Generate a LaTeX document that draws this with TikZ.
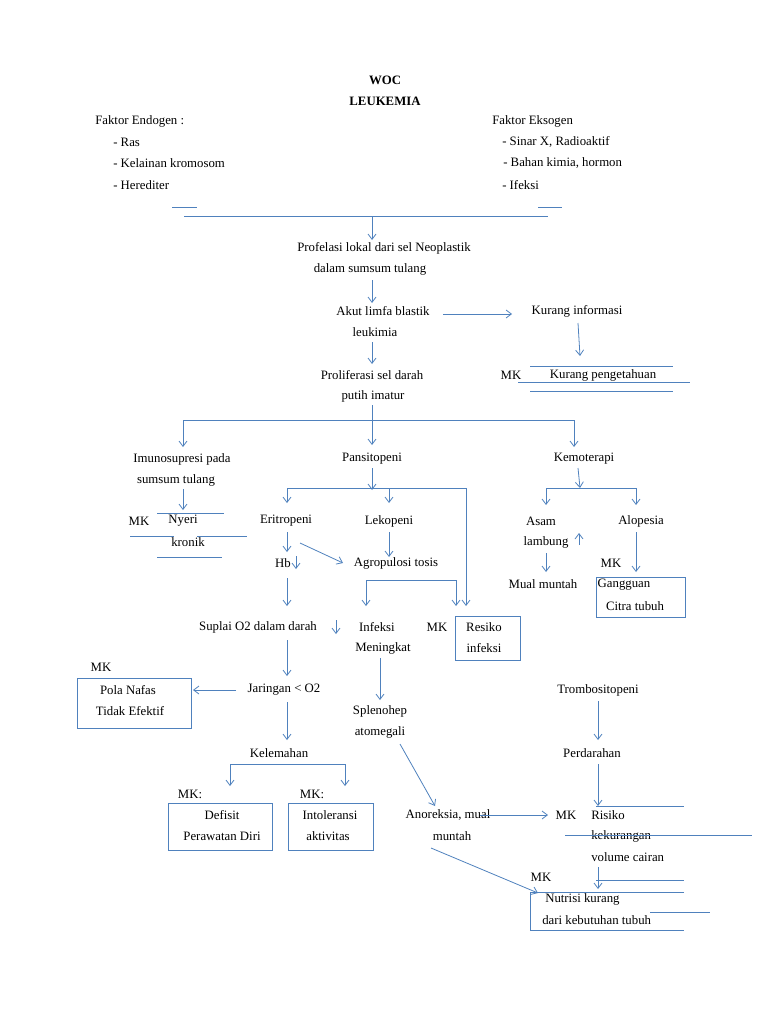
\documentclass[tikz,border=0pt]{standalone}
\usepackage{fontspec}
\setmainfont{Liberation Serif}
\usetikzlibrary{arrows.meta}
\definecolor{ln}{RGB}{79,129,189}
\begin{document}
\begin{tikzpicture}[x=0.75pt,y=-0.75pt,
 t/.style={inner sep=0pt,font=\fontsize{9.6}{11}\selectfont},
 l/.style={t,anchor=west},
 c/.style={draw=ln,line width=0.6pt},
 a/.style={c,-{Straight Barb[length=4pt,width=6pt]}},
 bx/.style={draw=ln,line width=0.6pt}]
\useasboundingbox (0,0) rectangle (768,1024);
% title
\node[t,font=\fontsize{9.6}{11}\selectfont\bfseries] (w) at (385,80) {WOC};
\node[t,font=\fontsize{9.6}{11}\selectfont\bfseries] (lk) at (385,101) {LEUKEMIA};
\node[l] (fe) at (95,121) {Faktor Endogen :};
\node[l] (f1) at (113,142) {- Ras};
\node[l] (f2) at (113,163) {- Kelainan kromosom};
\node[l] (f3) at (113,185) {- Herediter};
\node[l] (fx) at (492,121) {Faktor Eksogen};
\node[l] (x1) at (502,142) {- Sinar X, Radioaktif};
\node[l] (x2) at (503,163) {- Bahan kimia, hormon};
\node[l] (x3) at (502,185) {- Ifeksi};
\coordinate (s1) at (172,207); \coordinate (s2) at (197,207);
\coordinate (s3) at (538,207); \coordinate (s4) at (562,207);
\coordinate (h1) at (184,216); \coordinate (h2) at (548,216); \coordinate (h0) at (372,216);
\draw[c] (s1)--(s2); \draw[c] (s3)--(s4); \draw[c] (h1)--(h2);
\node[t] (p1) at (384,248) {Profelasi lokal dari sel Neoplastik};
\node[t] (p2) at (370,269) {dalam sumsum tulang};
\draw[a] (h0)--(372,240);
\node[t] (ak) at (383,311) {Akut limfa blastik};
\node[t] (ak2) at (375,332) {leukimia};
\draw[a] (372,280)--(372,303);
\node[t] (ki) at (577,311) {Kurang informasi};
\draw[a] (443,314)--(512,314);
\draw[a] (578,323)--(580,356);
\node[t] (pr) at (372,375) {Proliferasi sel darah};
\node[t] (pr2) at (373,396) {putih  imatur};
\draw[a] (372,342)--(372,364);
\node[t] (mk0) at (511,375) {MK};
\node[t] (kp) at (603,375) {Kurang pengetahuan};
\draw[c] (530,366)--(673,366); \draw[c] (518,382)--(690,382); \draw[c] (530,391)--(673,391);
% branch 1
\draw[c] (183,420)--(574,420);
\draw[a] (183,420)--(183,447); \draw[a] (372,405)--(372,445); \draw[a] (574,420)--(574,447);
\node[t] (im) at (182,459) {Imunosupresi pada};
\node[t] (im2) at (176,480) {sumsum tulang};
\draw[a] (183,489)--(183,510);
\node[t] (mk1) at (139,521) {MK};
\node[t] (ny) at (183,521) {Nyeri};
\node[t] (kr) at (188,542) {kronik};
\draw[c] (157,513)--(224,513); \draw[c] (130,536)--(174,536); \draw[c] (197,536)--(247,536); \draw[c] (157,557)--(222,557);
\node[t] (pa) at (372,459) {Pansitopeni};
\draw[a] (372,468)--(372,490);
\draw[c] (287,488)--(466,488);
\draw[a] (287,488)--(287,503); \draw[a] (389,488)--(389,503); \draw[a] (466,488)--(466,606);
\node[t] (er) at (286,521) {Eritropeni};
\node[t] (le) at (389,521) {Lekopeni};
\draw[a] (287,532)--(287,552);
\node[t] (hb) at (283,563) {Hb};
\draw[a] (296,556)--(296,569);
\draw[a] (300,543)--(343,563);
\node[t] (ag) at (396,563) {Agropulosi tosis};
\draw[a] (389,532)--(389,557);
\draw[c] (366,580)--(456,580);
\draw[a] (366,580)--(366,606); \draw[a] (456,580)--(456,606);
\node[t] (su) at (258,627) {Suplai O2 dalam darah};
\draw[a] (336,620)--(336,634);
\draw[a] (287,578)--(287,606);
\node[t] (in) at (377,627) {Infeksi};
\node[t] (in2) at (383,648) {Meningkat};
\node[t] (mk2) at (437,627) {MK};
\node[bx,minimum width=65pt*0.75,minimum height=44pt*0.75,inner sep=0pt] (ri) at (487.5,638) {};
\node[t] (ri1) at (484,627) {Resiko};
\node[t] (ri2) at (484,648) {infeksi};
\draw[a] (287,640)--(287,676);
\node[t] (ja) at (284,690) {Jaringan < O2};
\draw[a] (236,690)--(193,690);
\node[t] (mk3) at (101,667) {MK};
\node[bx,minimum width=114pt*0.75,minimum height=50pt*0.75,inner sep=0pt] (pn) at (134,703) {};
\node[t] (pn1) at (128,690) {Pola Nafas};
\node[t] (pn2) at (130,711) {Tidak Efektif};
\draw[a] (380,658)--(380,700);
\node[t] (sp) at (380,711) {Splenohep};
\node[t] (sp2) at (380,732) {atomegali};
\draw[a] (287,702)--(287,740);
\node[t] (ke) at (279,753) {Kelemahan};
\draw[c] (230,764)--(345,764);
\draw[a] (230,764)--(230,786); \draw[a] (345,764)--(345,786);
\node[t] (mk4) at (190,794) {MK:};
\node[bx,minimum width=104pt*0.75,minimum height=47pt*0.75,inner sep=0pt] (df) at (220,826.5) {};
\node[t] (df1) at (222,815) {Defisit};
\node[t] (df2) at (222,836) {Perawatan Diri};
\node[t] (mk5) at (312,794) {MK:};
\node[bx,minimum width=85pt*0.75,minimum height=47pt*0.75,inner sep=0pt] (it) at (330.5,826.5) {};
\node[t] (it1) at (330,815) {Intoleransi};
\node[t] (it2) at (328,836) {aktivitas};
\draw[a] (400,744)--(435,806);
\node[t] (an) at (448,815) {Anoreksia, mual};
\node[t] (an2) at (452,836) {muntah};
\draw[a] (480,815)--(548,815);
\node[t] (mk6) at (566,815) {MK};
\node[l] (rk1) at (591,815) {Risiko};
\node[l] (rk2) at (591,836) {kekurangan};
\node[l] (rk3) at (591,857) {volume cairan};
\draw[c] (596,806)--(684,806); \draw[c] (565,835)--(752,835); \draw[c] (596,880)--(684,880);
\draw[a] (431,848)--(538,893);
\node[t] (tr) at (598,690) {Trombositopeni};
\draw[a] (598,701)--(598,740);
\node[t] (pe) at (592,753) {Perdarahan};
\draw[a] (598,764)--(598,806);
\draw[a] (598,867)--(598,889);
\node[t] (mk7) at (541,877) {MK};
\draw[c] (684,892)--(530,892)--(530,930)--(684,930);
\draw[c] (650,912)--(710,912);
\node[l] (nu1) at (545,899) {Nutrisi kurang};
\node[l] (nu2) at (542,920) {dari kebutuhan tubuh};
% kemoterapi
\node[t] (km) at (584,459) {Kemoterapi};
\draw[a] (578,468)--(580,488);
\draw[c] (546,488)--(636,488);
\draw[a] (546,488)--(546,505); \draw[a] (636,488)--(636,505);
\node[t] (as) at (541,521) {Asam};
\node[t] (as2) at (546,542) {lambung};
\draw[a] (579,545)--(579,533);
\draw[a] (546,553)--(546,572);
\node[t] (mm) at (543,584) {Mual  muntah};
\node[t] (al) at (641,521) {Alopesia};
\draw[a] (636,532)--(636,572);
\node[t] (mk8) at (611,563) {MK};
\node[bx,minimum width=89pt*0.75,minimum height=40pt*0.75,inner sep=0pt] (gc) at (640.5,597) {};
\node[t] (gc1) at (624,585) {Gangguan};
\node[t] (gc2) at (635,606) {Citra tubuh};
\end{tikzpicture}
\end{document}
